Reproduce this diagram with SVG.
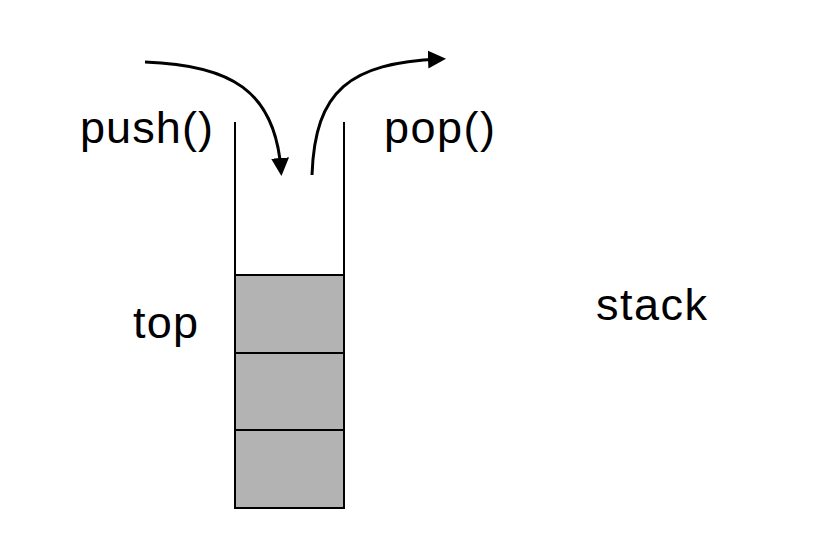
<svg xmlns="http://www.w3.org/2000/svg" width="814" height="542" viewBox="0 0 814 542">
<style>
text{font-family:"Liberation Sans",Arial,sans-serif;font-size:45px;fill:#000}
.w{stroke:#000;stroke-width:2;fill:none}
.c{fill:#b3b3b3;stroke:#000;stroke-width:2}
.a{stroke:#000;stroke-width:3;fill:none;marker-end:url(#ah)}
</style>
<defs><marker id="ah" markerWidth="6" markerHeight="6" refX="4" refY="3" orient="auto" markerUnits="strokeWidth"><path d="M0,0 L6,3 L0,6 Z" fill="#000"/></marker></defs>
<rect width="814" height="542" fill="#fff"/>
<g id="stack-body">
<rect class="c" x="235" y="275" width="109" height="78"/>
<rect class="c" x="235" y="353" width="109" height="77"/>
<rect class="c" x="235" y="430" width="109" height="78"/>
<path class="w" d="M235,122 V508 M344,122 V508"/>
</g>
<g id="connectors">
<path class="a" d="M145,62 C230,65 275,90 281,170"/>
<path class="a" d="M312,175 C315,90 350,63 440,59"/>
</g>
<g id="labels">
<text x="80" y="143" textLength="133">push()</text>
<text x="384" y="143" textLength="111">pop()</text>
<text x="133" y="338" textLength="65">top</text>
<text x="596" y="320" textLength="111">stack</text>
</g>
</svg>
